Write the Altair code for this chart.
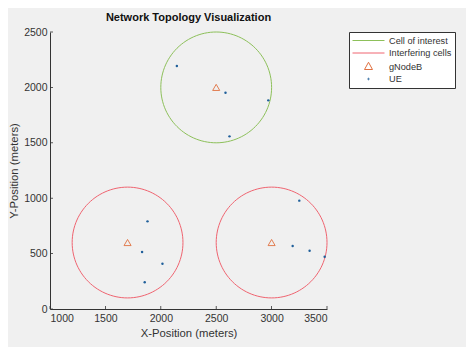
import altair as alt
import pandas as pd
import numpy as np

# ---- data ----
cell_ids = ["cell0", "cell1", "cell2"]
cell_is_interest = [True, False, False]
gnb_x = [2500, 1700, 3000]
gnb_y = [2000, 600, 600]
cell_radius = 500
ue_x = [2145, 2584, 2970, 2620, 1880, 1831, 2015, 1855, 3250, 3190, 3343, 3479]
ue_y = [2193, 1952, 1883, 1558, 791, 514, 409, 241, 978, 569, 526, 472]
legend_labels = ["Cell of interest", "Interfering cells", "gNodeB", "UE"]
legend_colors = ["#8DC05A", "#EF6470", "#E07040", "#1F5F9A"]
# legend glyphs (unit box scaled by the legend symbol size)
legend_shapes = ["M-3.2,0H3.2", "M-3.2,0H3.2",
                 "M0,-0.85L0.8,0.6L-0.8,0.6Z",
                 "M-0.15,0A0.15,0.15 0 1,0 0.15,0A0.15,0.15 0 1,0 -0.15,0Z"]
x_ticks = [1000, 1500, 2000, 2500, 3000, 3500]
y_ticks = [0, 500, 1000, 1500, 2000, 2500]

W, H = 277, 277
FONT = "Liberation Sans"
AX = "#333333"

# circle outlines built from centres and radius
angles = np.linspace(0, 2 * np.pi, 121)
rows = []
for cid, interest, cx, cy in zip(cell_ids, cell_is_interest, gnb_x, gnb_y):
    for i, a in enumerate(angles):
        rows.append({"cell": cid, "interest": interest, "order": i,
                     "x": cx + cell_radius * np.cos(a), "y": cy + cell_radius * np.sin(a)})
circ_df = pd.DataFrame(rows)
gnb_df = pd.DataFrame({"x": gnb_x, "y": gnb_y})
ue_df = pd.DataFrame({"x": ue_x, "y": ue_y})
leg_df = pd.DataFrame({"series": legend_labels})
xt_df = pd.DataFrame({"x": x_ticks})
yt_df = pd.DataFrame({"y": y_ticks})

xs = alt.Scale(domain=[1000, 3500], nice=False, zero=False)
ys = alt.Scale(domain=[0, 2500], nice=False, zero=False)

x_main = alt.X("x:Q", scale=xs, axis=alt.Axis(title="X-Position (meters)", values=x_ticks, tickSize=0, format="d",
               labelPadding=4, titlePadding=4, grid=False, domainColor=AX, labelColor=AX, titleColor=AX,
               labelFontSize=10.5, titleFontSize=11.3, titleFontWeight="normal", labelFont=FONT, titleFont=FONT))
y_main = alt.Y("y:Q", scale=ys, axis=alt.Axis(title="Y-Position (meters)", values=y_ticks, tickSize=0, format="d",
               labelPadding=3, titlePadding=4, grid=False, domainColor=AX, labelColor=AX, titleColor=AX,
               labelFontSize=10.5, titleFontSize=11.3, titleFontWeight="normal", labelFont=FONT, titleFont=FONT))
xq = alt.X("x:Q", scale=xs)
yq = alt.Y("y:Q", scale=ys)

green_circle = alt.Chart(circ_df).transform_filter("datum.interest").mark_line(
    strokeWidth=1, color=legend_colors[0]).encode(x=x_main, y=y_main, detail="cell:N", order="order:Q")
red_circles = alt.Chart(circ_df).transform_filter("!datum.interest").mark_line(
    strokeWidth=1, color=legend_colors[1]).encode(x=xq, y=yq, detail="cell:N", order="order:Q")

gnb = alt.Chart(gnb_df).mark_point(shape="triangle-up", filled=False, size=50, strokeWidth=0.9,
                                   color=legend_colors[2], opacity=1).encode(x=xq, y=yq)

ue = alt.Chart(ue_df).mark_point(shape="circle", filled=True, size=6, opacity=1,
                                 color=legend_colors[3]).encode(x=xq, y=yq)

# inward tick marks (MATLAB style)
xticks = alt.Chart(xt_df).mark_tick(orient="vertical", size=3, thickness=0.8, color=AX, opacity=1).encode(
    x=xq, y=alt.value(H - 1.5))
yticks = alt.Chart(yt_df).mark_tick(orient="horizontal", size=3, thickness=0.8, color=AX, opacity=1).encode(
    y=yq, x=alt.value(1.5))

legend_layer = alt.Chart(leg_df).mark_point(filled=False, opacity=0, strokeWidth=1).encode(
    color=alt.Color("series:N", scale=alt.Scale(domain=legend_labels, range=legend_colors), legend=alt.Legend(
        title=None, orient="none", legendX=299, legendY=0, padding=3, fillColor="white",
        strokeColor=AX, labelFont=FONT, labelFontSize=9.2, labelColor=AX, labelOffset=15,
        symbolOffset=11, symbolOpacity=1, rowPadding=1.5, symbolStrokeWidth=1, symbolSize=100)),
    shape=alt.Shape("series:N", scale=alt.Scale(domain=legend_labels, range=legend_shapes)))

chart = alt.layer(green_circle, red_circles, gnb, ue, xticks, yticks, legend_layer).properties(
    width=W, height=H,
    autosize=alt.AutoSizeParams(type="none"),
    padding={"left": 42, "top": 24, "right": 139, "bottom": 38},
    background="#f0f0f0",
    title=alt.TitleParams("Network Topology Visualization", font=FONT, fontSize=11, fontWeight="bold",
                          color="#111111", offset=4, anchor="middle"),
).configure_view(fill="white", stroke=None)

chart.save("out.html", embed_options={"renderer": "svg", "actions": False})
